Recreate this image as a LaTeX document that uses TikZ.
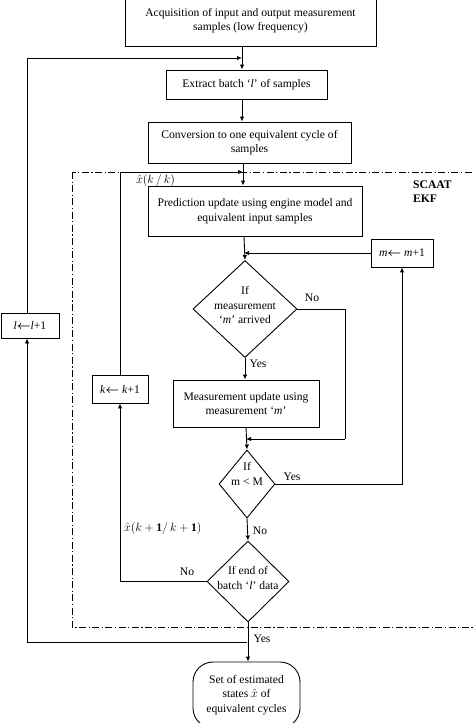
\documentclass[tikz,border=0pt]{standalone}
\usepackage{amsmath}
\usepackage{fontspec}
\setmainfont{Liberation Serif}
\usetikzlibrary{shapes.geometric,arrows.meta,calc}
\begin{document}
\begin{tikzpicture}[x=1pt,y=-1pt,
  every node/.style={font=\fontsize{11.6}{14.5}\selectfont},
  box/.style={draw,line width=0.9pt,inner sep=0pt,align=center},
  dia/.style={draw,line width=0.9pt,diamond,inner sep=0pt},
  txt/.style={inner sep=0pt,align=center},
  lbl/.style={inner sep=0pt},
  conn/.style={line width=0.9pt},
  arr/.style={line width=0.9pt,-{Latex[length=5pt,width=4.5pt]}},
  frame/.style={line width=0.7pt,dash pattern=on 7pt off 2.5pt on 1.2pt off 2.5pt}]
\useasboundingbox (0,0) rectangle (474,723);
\clip (0,0) rectangle (474,723);
% nodes
\node[box,minimum width=251pt,minimum height=51pt] (acq) at (250.5,20.5) {Acquisition of input and output measurement\\samples (low frequency)};
\node[box,minimum width=161pt,minimum height=29pt] (extract) at (246.5,84.5) {Extract batch `\textit{l}' of samples};
\node[box,minimum width=203pt,minimum height=41pt] (conv) at (249.5,142.5) {Conversion to one equivalent cycle of\\samples};
\node[box,minimum width=214pt,minimum height=50pt] (pred) at (255,211) {Prediction update using engine model and\\equivalent input samples};
\node[box,minimum width=62pt,minimum height=28pt] (mbox) at (402,253) {\textit{m}$\boldsymbol{\leftarrow}$ \textit{m}+1};
\node[dia,minimum width=104pt,minimum height=97pt] (d1) at (245,309) {};
\node[txt] (d1t) at (245,305) {If\\measurement\\`\textit{m}' arrived};
\node[box,minimum width=146pt,minimum height=47pt] (meas) at (246,403.5) {Measurement update using\\measurement `\textit{m}'};
\node[dia,minimum width=56pt,minimum height=68pt] (d2) at (247,484) {};
\node[txt] (d2t) at (247,474) {If\\m < M};
\node[dia,minimum width=82pt,minimum height=81pt] (d3) at (248,581.5) {};
\node[txt] (d3t) at (248,578) {If end of\\batch `\textit{l}' data};
\node[box,minimum width=56pt,minimum height=28pt] (kbox) at (120,389) {\textit{k}$\boldsymbol{\leftarrow}$ \textit{k}+1};
\node[box,minimum width=58pt,minimum height=25pt] (lbox) at (30,325.5) {\textit{l}$\boldsymbol{\leftarrow}$\textit{l}+1};
\node[box,rounded corners=20pt,minimum width=107pt,minimum height=66pt] (term) at (246.5,695) {Set of estimated\\states $\hat{x}$ of\\equivalent cycles};
% frame
\draw[frame] (72,172) rectangle (490,627);
\node[lbl,font=\fontsize{11.6}{14}\selectfont\bfseries,align=left,anchor=west] (scaat) at (413,192) {SCAAT\\EKF};
% coordinates
\coordinate (s1) at (242,0);
\coordinate (s2) at (243,0);
\coordinate (s3) at (244,0);
\coordinate (s4) at (246,0);
\coordinate (lx) at (27,0);
\coordinate (nojoin) at (345,439);
\coordinate (j3) at (247,642);
\coordinate (ltop) at (0,58);
\coordinate (ktop) at (0,172);
% main arrows
\draw[arr] (acq.south -| s1) -- (extract.north -| s1);
\draw[arr] (extract.south -| s1) -- (conv.north -| s1);
\draw[arr] (conv.south -| s2) -- (pred.north -| s2);
\draw[arr] (pred.south -| s3) -- (d1.north);
\draw[arr] (d1.south) -- (meas.north -| d1.south);
\draw[arr] (meas.south -| s4) -- (d2.north);
\draw[arr] (d2.south) -- (d3.north);
\draw[arr] (d3.south) -- (term.north -| d3.south);
% l loop
\draw[arr] (j3) -| (lbox.south -| lx);
\draw[arr] (lbox.north -| lx) |- (s1 |- ltop);
% k loop
\draw[arr] (d3.west) -| (kbox.south);
\draw[arr] (kbox.north) |- (s2 |- ktop);
% m loop
\draw[arr] (d2.east) -| (mbox.south);
\draw[arr] (mbox.west) -- (s3 |- mbox.west);
% No from d1
\draw[conn] (d1.east) -| (nojoin);
\draw[arr] (nojoin) -- (s4 |- nojoin);
% labels
\node[lbl] (no1) at (312,298) {No};
\node[lbl] (yes1) at (258,364) {Yes};
\node[lbl] (yes2) at (292,477) {Yes};
\node[lbl] (no2) at (260,531) {No};
\node[lbl] (no3) at (187,572) {No};
\node[lbl] (yes3) at (262,639) {Yes};
\node[lbl,anchor=west] (xkk) at (136,180) {$\hat{x}(k\,/\,k)$};
\node[lbl,anchor=west] (xk1) at (124,528) {$\hat{x}(k+\mathbf{1}/\,k+\mathbf{1})$};
\end{tikzpicture}
\end{document}
